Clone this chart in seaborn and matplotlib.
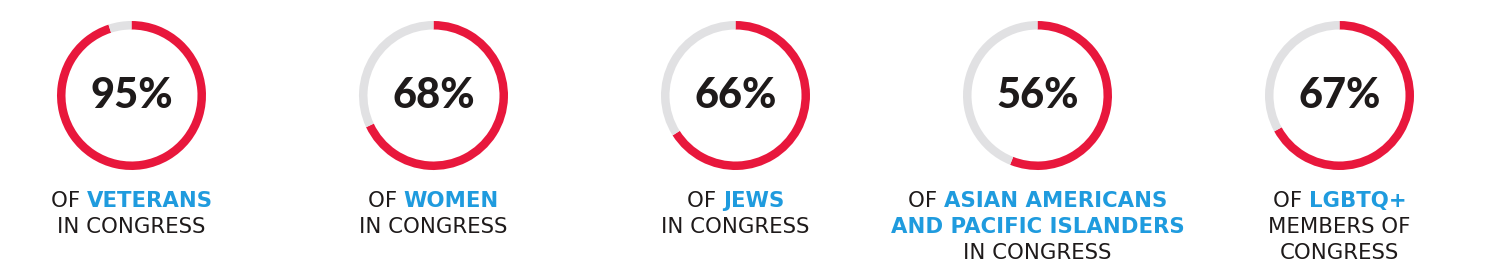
import matplotlib
matplotlib.use("Agg")
import matplotlib.pyplot as plt
import seaborn as sns

sns.set_theme(style="white")
plt.rcParams['font.family'] = ['DejaVu Sans']

# ---- data ----
percents = [95, 68, 66, 56, 67]
highlight = ["VETERANS", "WOMEN", "JEWS", "ASIAN AMERICANS\nAND PACIFIC ISLANDERS", "LGBTQ+"]
# label lines: list of segments (text, is_highlight)
label_lines = [
    [[("OF ", False), ("VETERANS", True)], [("IN CONGRESS", False)]],
    [[("OF ", False), ("WOMEN", True)], [("IN CONGRESS", False)]],
    [[("OF ", False), ("JEWS", True)], [("IN CONGRESS", False)]],
    [[("OF ", False), ("ASIAN AMERICANS", True)], [("AND PACIFIC ISLANDERS", True)], [("IN CONGRESS", False)]],
    [[("OF ", False), ("LGBTQ+", True)], [("MEMBERS OF", False)], [("CONGRESS", False)]],
]

RED = "#E8173C"
GRAY = "#E1E1E3"
BLUE = "#1F9BDE"
DARK = "#1E1A1A"

W, H = 1486, 279
fig = plt.figure(figsize=(W / 100, H / 100), dpi=100)
ax = fig.add_axes([0, 0, 1, 1])

centers_x = [131.5 + 302 * i for i in range(len(percents))]
cy = H - 95.5
r_out = 74.5
ring_w = 8.5

for cx, p in zip(centers_x, percents):
    ax.pie([p, 100 - p], colors=[RED, GRAY], startangle=90, counterclock=False,
           center=(cx, cy), radius=r_out,
           wedgeprops=dict(width=ring_w, edgecolor="none", linewidth=0))
    ax.text(cx, H - 108, f"{p}%", ha="center", va="baseline", fontsize=30,
            fontweight=900, color=DARK, family=["Lato", "DejaVu Sans"])

ax.set_xlim(0, W)
ax.set_ylim(0, H)
ax.set_aspect("equal")
ax.axis("off")

fig.canvas.draw()
renderer = fig.canvas.get_renderer()
baselines = [H - 207, H - 233, H - 259]
fs = 15.3
for cx, lines in zip(centers_x, label_lines):
    for li, segs in enumerate(lines):
        texts = []
        widths = []
        for s, hl in segs:
            t = ax.text(0, baselines[li], s, ha="left", va="baseline", fontsize=fs,
                        fontweight="bold" if hl else "normal",
                        color=BLUE if hl else DARK)
            bb = t.get_window_extent(renderer=renderer)
            texts.append(t)
            widths.append(bb.width)
        total = sum(widths)
        x = cx - total / 2
        for t, w in zip(texts, widths):
            t.set_x(x)
            x += w

fig.savefig("out.png", dpi=100, facecolor="white")
